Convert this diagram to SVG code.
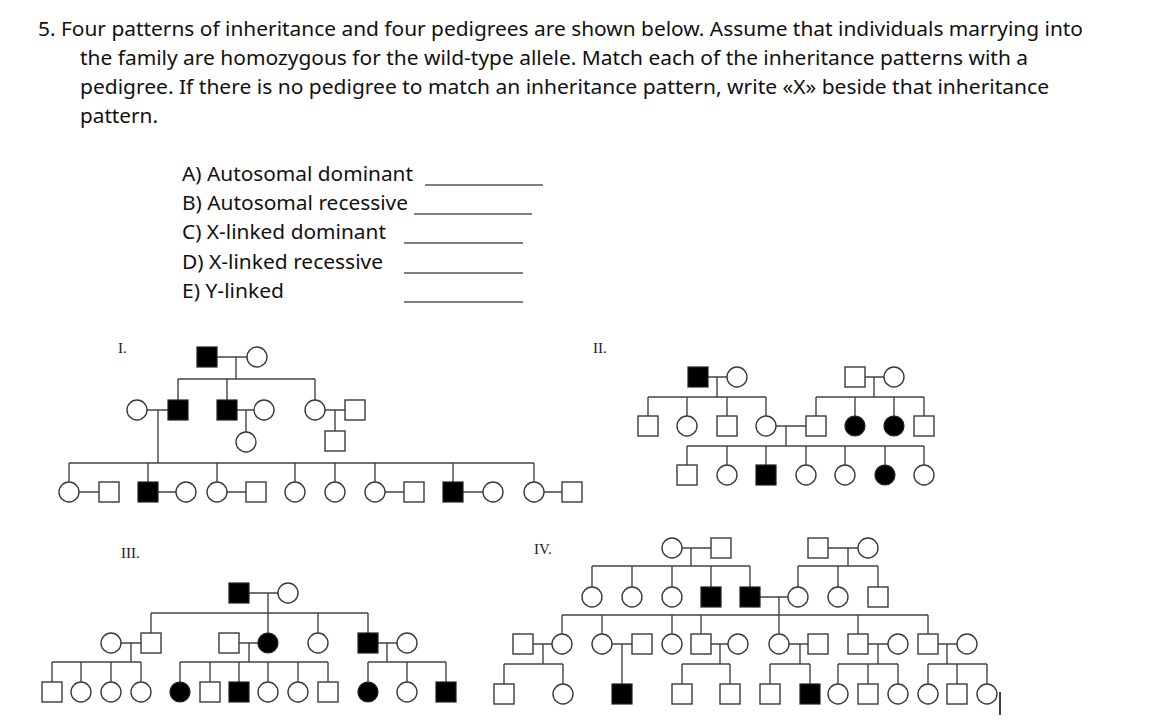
<svg xmlns="http://www.w3.org/2000/svg" width="1169" height="721" viewBox="0 0 1169 721">
<style>
.t{font-family:"Noto Sans","Open Sans",sans-serif;font-size:19px;fill:#111}
.r{font-family:"Liberation Serif",serif;font-size:15px;fill:#222}
.o{fill:#fff;stroke:#3a3a3a;stroke-width:1.4}
.f{fill:#000;stroke:#222;stroke-width:1.2}
.c{fill:none;stroke:#444;stroke-width:1.4}
.u{stroke:#000;stroke-width:1}
</style>
<rect width="1169" height="721" fill="#fff"/>
<g id="question">
<text class="t" x="38" y="36" textLength="1045" lengthAdjust="spacingAndGlyphs">5. Four patterns of inheritance and four pedigrees are shown below.  Assume that individuals marrying into</text>
<text class="t" x="80" y="65" textLength="948" lengthAdjust="spacingAndGlyphs">the family are homozygous for the wild-type allele. Match each of the inheritance patterns with a</text>
<text class="t" x="80" y="94" textLength="969" lengthAdjust="spacingAndGlyphs">pedigree. If there is no pedigree to match an inheritance pattern, write «X» beside that inheritance</text>
<text class="t" x="80" y="123" textLength="78" lengthAdjust="spacingAndGlyphs">pattern.</text>
<text class="t" x="182" y="181" textLength="231" lengthAdjust="spacingAndGlyphs">A) Autosomal dominant</text>
<text class="t" x="182" y="210" textLength="226" lengthAdjust="spacingAndGlyphs">B) Autosomal recessive</text>
<text class="t" x="182" y="239" textLength="204" lengthAdjust="spacingAndGlyphs">C) X-linked dominant</text>
<text class="t" x="182" y="269" textLength="201" lengthAdjust="spacingAndGlyphs">D) X-linked recessive</text>
<text class="t" x="182" y="298" textLength="102" lengthAdjust="spacingAndGlyphs">E) Y-linked</text>
<path class="u" d="M425 185H543M414 214H532M404 243H523M404 273H523M404 302H523"/>
</g>
<g id="labels">
<text class="r" x="118" y="353">I.</text>
<text class="r" x="593" y="353">II.</text>
<text class="r" x="121" y="558">III.</text>
<text class="r" x="534" y="554">IV.</text>
</g>
<g id="connectors" class="c">
<path d="M217 357H247M236 357V379M178 379H315M178 379V400M227 379V400M315 379V400M147 410H168M158 410V463M237 410H254M246 410V432M325 410H345M335 410V431M69 463H534M69 463V482M148 463V482M217 463V482M295 463V482M335 463V482M375 463V482M453 463V482M534 463V482M79 492H99M158 492H176M227 492H246M385 492H404M463 492H483M544 492H562"/>
<path d="M708 377H727M717 377V397M648 397H766M648 397V416M687 397V416M727 397V416M766 397V416M865 377H884M874 377V397M816 397H924M816 397V416M855 397V416M894 397V416M924 397V416M776 426H806M786 426V446M687 446H924M687 446V465M727 446V465M766 446V465M806 446V465M845 446V465M885 446V465M924 446V465"/>
<path d="M249 593H278M268 593V613M151 613H368M151 613V633M268 613V633M318 613V633M368 613V633M121 643H141M131 643V662M52 662H141M52 662V682M81 662V682M111 662V682M141 662V682M239 643H258M249 643V662M180 662H328M180 662V682M210 662V682M239 662V682M268 662V682M298 662V682M328 662V682M378 643H397M387 643V662M368 662H446M368 662V682M407 662V682M446 662V682"/>
<path d="M682 548H711M691 548V566M592 566H750M592 566V587M632 566V587M672 566V587M711 566V587M750 566V587M828 548H858M848 548V566M798 566H878M798 566V587M838 566V587M878 566V587M760 597H788M779 597V615M562 615H928M562 615V634M602 615V634M672 615V634M701 615V634M779 615V634M858 615V634M928 615V634M533 644H552M612 644H632M711 644H728M789 644H808M868 644H888M938 644H957M543 644V664M504 664H563M504 664V684M563 664V684M622 644V684M720 644V664M682 664H730M682 664V684M730 664V684M800 644V664M770 664H810M770 664V684M810 664V684M878 644V664M838 664H898M838 664V684M868 664V684M898 664V684M947 644V664M928 664H987M928 664V684M957 664V684M987 664V684"/>
<path d="M1000 692V715" stroke="#000" stroke-width="1.5"/>
</g>
<g id="pedigree-I">
<rect class="f" x="197" y="347" width="20" height="20"/><circle class="o" cx="257" cy="357" r="10"/>
<circle class="o" cx="137" cy="410" r="10"/><rect class="f" x="168" y="400" width="20" height="20"/>
<rect class="f" x="217" y="400" width="20" height="20"/><circle class="o" cx="264" cy="410" r="10"/>
<circle class="o" cx="315" cy="410" r="10"/><rect class="o" x="345" y="400" width="20" height="20"/>
<circle class="o" cx="246" cy="442" r="10"/><rect class="o" x="325" y="431" width="20" height="20"/>
<circle class="o" cx="69" cy="492" r="10"/><rect class="o" x="99" y="482" width="20" height="20"/>
<rect class="f" x="138" y="482" width="20" height="20"/><circle class="o" cx="186" cy="492" r="10"/>
<circle class="o" cx="217" cy="492" r="10"/><rect class="o" x="246" y="482" width="20" height="20"/>
<circle class="o" cx="295" cy="492" r="10"/><circle class="o" cx="335" cy="492" r="10"/>
<circle class="o" cx="375" cy="492" r="10"/><rect class="o" x="404" y="482" width="20" height="20"/>
<rect class="f" x="443" y="482" width="20" height="20"/><circle class="o" cx="493" cy="492" r="10"/>
<circle class="o" cx="534" cy="492" r="10"/><rect class="o" x="562" y="482" width="20" height="20"/>
</g>
<g id="pedigree-II">
<rect class="f" x="688" y="367" width="20" height="20"/><circle class="o" cx="737" cy="377" r="10"/>
<rect class="o" x="845" y="367" width="20" height="20"/><circle class="o" cx="894" cy="377" r="10"/>
<rect class="o" x="638" y="416" width="20" height="20"/><circle class="o" cx="687" cy="426" r="10"/>
<rect class="o" x="717" y="416" width="20" height="20"/><circle class="o" cx="766" cy="426" r="10"/>
<rect class="o" x="806" y="416" width="20" height="20"/><circle class="f" cx="855" cy="426" r="10"/>
<circle class="f" cx="894" cy="426" r="10"/><rect class="o" x="914" y="416" width="20" height="20"/>
<rect class="o" x="677" y="465" width="20" height="20"/><circle class="o" cx="727" cy="475" r="10"/>
<rect class="f" x="756" y="465" width="20" height="20"/><circle class="o" cx="806" cy="475" r="10"/>
<circle class="o" cx="845" cy="475" r="10"/><circle class="f" cx="885" cy="475" r="10"/>
<circle class="o" cx="924" cy="475" r="10"/>
</g>
<g id="pedigree-III">
<rect class="f" x="229" y="583" width="20" height="20"/><circle class="o" cx="288" cy="593" r="10"/>
<circle class="o" cx="111" cy="643" r="10"/><rect class="o" x="141" y="633" width="20" height="20"/>
<rect class="o" x="219" y="633" width="20" height="20"/><circle class="f" cx="268" cy="643" r="10"/>
<circle class="o" cx="318" cy="643" r="10"/><rect class="f" x="358" y="633" width="20" height="20"/>
<circle class="o" cx="407" cy="643" r="10"/>
<rect class="o" x="42" y="682" width="20" height="20"/><circle class="o" cx="81" cy="692" r="10"/>
<circle class="o" cx="111" cy="692" r="10"/><circle class="o" cx="141" cy="692" r="10"/>
<circle class="f" cx="180" cy="692" r="10"/><rect class="o" x="200" y="682" width="20" height="20"/>
<rect class="f" x="229" y="682" width="20" height="20"/><circle class="o" cx="268" cy="692" r="10"/>
<circle class="o" cx="298" cy="692" r="10"/><rect class="o" x="318" y="682" width="20" height="20"/>
<circle class="f" cx="368" cy="692" r="10"/><circle class="o" cx="407" cy="692" r="10"/>
<rect class="f" x="436" y="682" width="20" height="20"/>
</g>
<g id="pedigree-IV">
<circle class="o" cx="672" cy="548" r="10"/><rect class="o" x="711" y="538" width="20" height="20"/>
<rect class="o" x="808" y="538" width="20" height="20"/><circle class="o" cx="868" cy="548" r="10"/>
<circle class="o" cx="592" cy="597" r="10"/><circle class="o" cx="632" cy="597" r="10"/>
<circle class="o" cx="672" cy="597" r="10"/><rect class="f" x="701" y="587" width="20" height="20"/>
<rect class="f" x="740" y="587" width="20" height="20"/><circle class="o" cx="798" cy="597" r="10"/>
<circle class="o" cx="838" cy="597" r="10"/><rect class="o" x="868" y="587" width="20" height="20"/>
<rect class="o" x="513" y="634" width="20" height="20"/><circle class="o" cx="562" cy="644" r="10"/>
<circle class="o" cx="602" cy="644" r="10"/><rect class="o" x="632" y="634" width="20" height="20"/>
<circle class="o" cx="672" cy="644" r="10"/><rect class="o" x="691" y="634" width="20" height="20"/>
<circle class="o" cx="738" cy="644" r="10"/><circle class="o" cx="779" cy="644" r="10"/>
<rect class="o" x="808" y="634" width="20" height="20"/><rect class="o" x="848" y="634" width="20" height="20"/>
<circle class="o" cx="898" cy="644" r="10"/><rect class="o" x="918" y="634" width="20" height="20"/>
<circle class="o" cx="967" cy="644" r="10"/>
<rect class="o" x="494" y="684" width="20" height="20"/><circle class="o" cx="563" cy="694" r="10"/>
<rect class="f" x="612" y="684" width="20" height="20"/><rect class="o" x="672" y="684" width="20" height="20"/>
<rect class="o" x="720" y="684" width="20" height="20"/><rect class="o" x="760" y="684" width="20" height="20"/>
<rect class="f" x="800" y="684" width="20" height="20"/><circle class="o" cx="838" cy="694" r="10"/>
<rect class="o" x="858" y="684" width="20" height="20"/><circle class="o" cx="898" cy="694" r="10"/>
<circle class="o" cx="928" cy="694" r="10"/><rect class="o" x="947" y="684" width="20" height="20"/>
<circle class="o" cx="987" cy="694" r="10"/>
</g>
</svg>
